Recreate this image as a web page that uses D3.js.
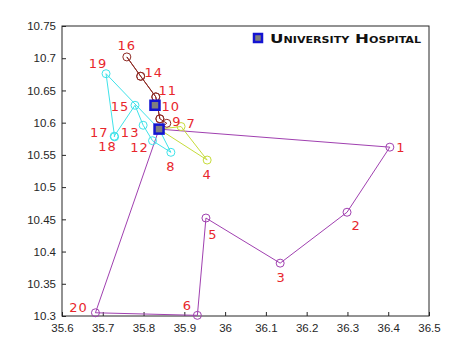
<!DOCTYPE html>
<html>
<head>
<meta charset="utf-8">
<script src="https://cdn.jsdelivr.net/npm/d3@7"></script>
<style>
  body { margin: 0; background: #fff; }
  svg { display: block; }
</style>
</head>
<body>
<svg id="drawing_region"></svg>
<script>
// stops (x = first coordinate, y = second coordinate)
const stopIds = [1, 2, 3, 4, 5, 6, 7, 8, 9, 10, 11, 12, 13, 14, 15, 16, 17, 18, 19, 20];
const stopX = [36.404, 36.299, 36.135, 35.956, 35.953, 35.932, 35.892, 35.867, 35.857, 35.840,
               35.830, 35.822, 35.799, 35.793, 35.779, 35.759, 35.728, 35.729, 35.708, 35.682];
const stopY = [10.562, 10.461, 10.382, 10.542, 10.452, 10.301, 10.594, 10.554, 10.599, 10.606,
               10.640, 10.572, 10.596, 10.672, 10.627, 10.702, 10.579, 10.578, 10.676, 10.305];

// hospital markers
const hospitalX = [35.828, 35.838];
const hospitalY = [10.627, 10.590];
const legendLabel = 'University Hospital';

// routes, 0 = hospital
const routePurple = [0, 1, 2, 3, 5, 6, 20, 0];
const routeYellow = [0, 4, 7, 0];
const routeCyan = [0, 8, 12, 13, 15, 17, 18, 19, 0];
const routeBrown = [0, 9, 10, 11, 14, 16, 14, 11, 10];

const xTicks = [35.6, 35.7, 35.8, 35.9, 36, 36.1, 36.2, 36.3, 36.4, 36.5];
const yTicks = [10.3, 10.35, 10.4, 10.45, 10.5, 10.55, 10.6, 10.65, 10.7, 10.75];

// label offsets (px) per stop
const labelDx = [11, 9, 1, 0, 7, -10, 10, 0, 10, 11, 12, -13, -13, 13, -15, 0, -15, -7, -8, -17];
const labelDy = [0, 13, 14, 14, 16, -10, -3, 14, -2, -12, -6, 7, 7, -4, 1, -11, -4, 10, -10, -5];

const config = {
    width: 474,
    height: 355,
    margin: {top: 26, right: 45, bottom: 39, left: 62}
};

const svg = d3.select('#drawing_region')
    .attr('width', config.width)
    .attr('height', config.height);

svg.append('rect')
    .attr('width', config.width)
    .attr('height', config.height)
    .attr('fill', '#fff');

const inner_width = config.width - config.margin.left - config.margin.right;
const inner_height = config.height - config.margin.top - config.margin.bottom;

const chart = svg.append('g')
    .attr('transform', `translate(${config.margin.left}, ${config.margin.top})`);

const xscale = d3.scaleLinear().domain([35.6, 36.5]).range([0, inner_width]);
const yscale = d3.scaleLinear().domain([10.3, 10.75]).range([inner_height, 0]);

const fmt = d => String(+d.toFixed(2));

const xaxis = d3.axisBottom(xscale).tickValues(xTicks).tickFormat(fmt).tickSize(-4).tickPadding(8);
const yaxis = d3.axisLeft(yscale).tickValues(yTicks).tickFormat(fmt).tickSize(-4).tickPadding(6);

const xg = chart.append('g')
    .attr('transform', `translate(0, ${inner_height})`)
    .call(xaxis);
const yg = chart.append('g').call(yaxis);

[xg, yg].forEach(g => {
    g.select('.domain').remove();
    g.selectAll('line').attr('stroke', '#262626');
    g.selectAll('text')
        .attr('fill', '#262626')
        .style('font-family', '"Liberation Sans", Arial, sans-serif')
        .style('font-size', '11.5px');
});

chart.append('rect')
    .attr('width', inner_width)
    .attr('height', inner_height)
    .attr('fill', 'none')
    .attr('stroke', '#262626')
    .attr('stroke-width', 1);

const px = id => id === 0 ? xscale(hospitalX[1]) : xscale(stopX[id - 1]);
const py = id => id === 0 ? yscale(hospitalY[1]) : yscale(stopY[id - 1]);

const routes = [
    {stops: routePurple, color: '#a040b0'},
    {stops: routeYellow, color: '#c6dc3a'},
    {stops: routeCyan, color: '#3fe3ea'},
    {stops: routeBrown, color: '#8e2a24'}
];

const line = d3.line().x(d => px(d)).y(d => py(d));

routes.forEach(r => {
    chart.append('path')
        .datum(r.stops)
        .attr('d', line)
        .attr('fill', 'none')
        .attr('stroke', r.color)
        .attr('stroke-width', 1);

    chart.selectAll(null)
        .data(r.stops.filter(d => d !== 0))
        .join('circle')
        .attr('cx', d => px(d))
        .attr('cy', d => py(d))
        .attr('r', 4)
        .attr('fill', 'none')
        .attr('stroke', r.color)
        .attr('stroke-width', 1);
});

// hospital squares
chart.selectAll('.hospital')
    .data(hospitalX.map((x, i) => ({x: x, y: hospitalY[i]})))
    .join('rect')
    .attr('class', 'hospital')
    .attr('x', d => xscale(d.x) - 4.5)
    .attr('y', d => yscale(d.y) - 4.5)
    .attr('width', 9)
    .attr('height', 9)
    .attr('fill', '#7f7f7f')
    .attr('stroke', '#1414d2')
    .attr('stroke-width', 2.5);

// stop labels
chart.selectAll('.stop-label')
    .data(stopIds)
    .join('text')
    .attr('class', 'stop-label')
    .attr('x', (d, i) => xscale(stopX[i]) + labelDx[i])
    .attr('y', (d, i) => yscale(stopY[i]) + labelDy[i])
    .attr('text-anchor', 'middle')
    .attr('dy', '0.35em')
    .attr('fill', '#e8262c')
    .attr('letter-spacing', 1)
    .style('font-family', '"DejaVu Sans", sans-serif')
    .style('font-size', '13px')
    .text(d => d);

// legend
const legend = chart.append('g')
    .attr('transform', `translate(${inner_width - 171}, 12)`);

legend.append('rect')
    .attr('x', -4)
    .attr('y', -4)
    .attr('width', 8)
    .attr('height', 8)
    .attr('fill', '#7f7f7f')
    .attr('stroke', '#1414d2')
    .attr('stroke-width', 2.5);

legend.append('text')
    .attr('x', 12)
    .attr('y', 5)
    .attr('textLength', 151)
    .attr('lengthAdjust', 'spacingAndGlyphs')
    .attr('fill', '#111')
    .style('font-family', '"DejaVu Sans", sans-serif')
    .style('font-weight', 'bold')
    .style('font-variant', 'small-caps')
    .style('font-size', '12px')
    .text(legendLabel);
</script>
</body>
</html>
